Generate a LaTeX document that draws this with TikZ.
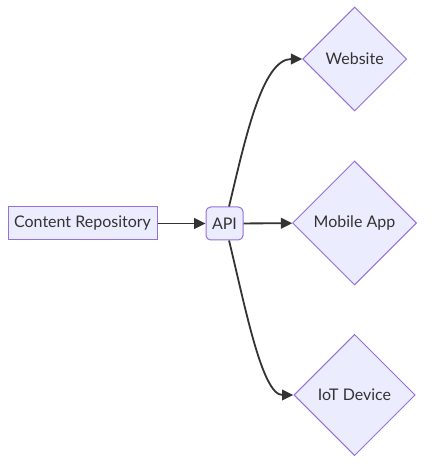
\documentclass[tikz,border=0pt]{standalone}
\usepackage{fontspec}
\setmainfont{Lato}
\usetikzlibrary{shapes.geometric,arrows.meta}
\definecolor{nodefill}{HTML}{ECECFF}
\definecolor{nodeline}{HTML}{9370DB}
\definecolor{edgeline}{HTML}{333333}
\tikzset{
	box/.style={draw=nodeline,fill=nodefill,line width=0.75pt,text=edgeline,inner sep=0pt,minimum height=24.75pt,font=\fontsize{12}{14}\selectfont},
	choice/.style={diamond,draw=nodeline,fill=nodefill,line width=0.75pt,text=edgeline,inner sep=0pt,font=\fontsize{12}{14}\selectfont},
	flow/.style={draw=edgeline,line width=1.35pt,-{Triangle[length=8.5pt,width=8pt]}}
}

\begin{document}
\begin{tikzpicture}[x=0.75pt,y=0.75pt,yscale=-1,xscale=1]
		\useasboundingbox (0,0) rectangle (433,473);
		\node [box,minimum width=111.75pt] (repo) at (82.5,223.5) {Content Repository};
		\node [box,rounded corners=3.5pt,minimum width=27.75pt] (api) at (224.5,223.5) {API};
		\node [choice,minimum width=78pt,minimum height=78pt] (web) at (354.7,59) {Website};
		\node [choice,minimum width=93pt,minimum height=93pt] (mobile) at (354.5,223) {Mobile App};
		\node [choice,minimum width=91pt,minimum height=91pt] (iot) at (354.5,395) {IoT Device};
		\draw [flow] (repo) -- (api);
		\draw [flow] (api) -- (mobile);
		\draw [flow] ([xshift=3.4pt]api.north) .. controls (245,140) and (262,59) .. (web);
		\draw [flow] ([xshift=3.4pt]api.south) .. controls (245,306) and (262,395) .. (iot);
\end{tikzpicture}
\end{document}
